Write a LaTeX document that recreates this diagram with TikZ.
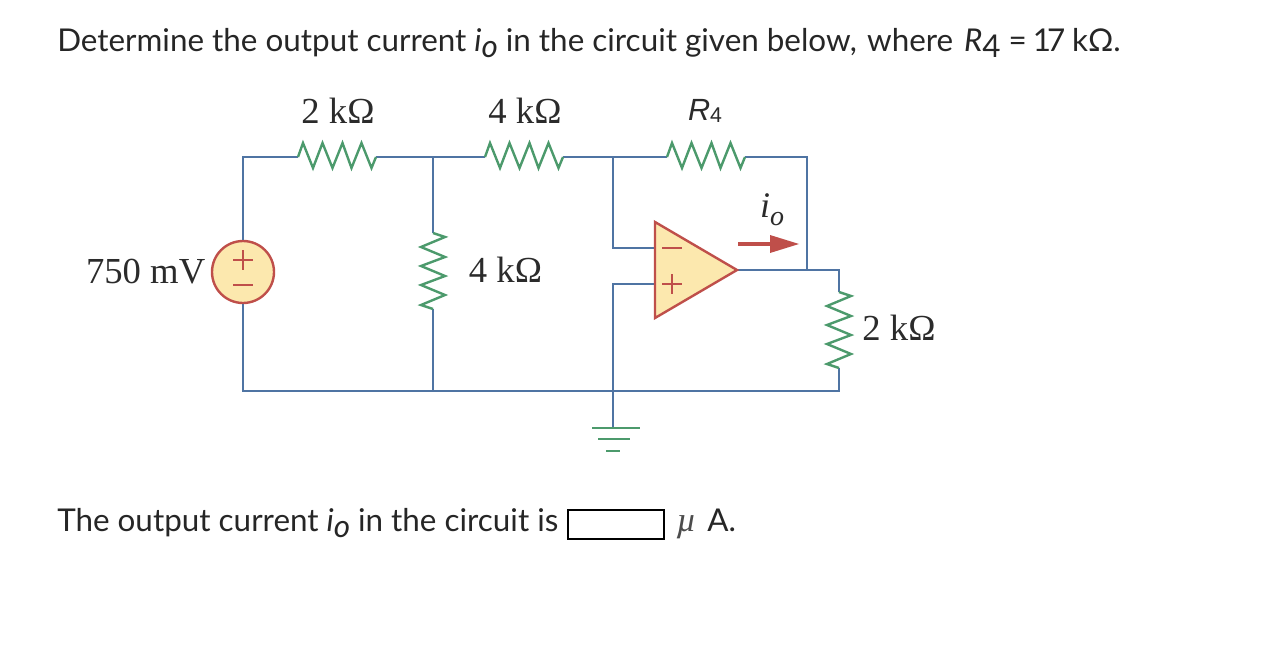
\documentclass[tikz,border=0pt]{standalone}
\usepackage{fontspec}
\setmainfont{Liberation Serif}
\newfontfamily\uifont{Lato}
\newfontfamily\sansfam{Liberation Sans}
\definecolor{wirec}{HTML}{4F74A3}
\definecolor{resc}{HTML}{4C9A6C}
\definecolor{redc}{HTML}{BF4F4A}
\definecolor{fillc}{HTML}{FCE8AE}
\definecolor{txtc}{HTML}{2B2B2B}
\tikzset{
  wire/.style={draw=wirec,line width=1.6pt,line join=miter},
  res/.style={draw=resc,line width=1.8pt,line join=miter},
  red/.style={draw=redc,line width=1.8pt},
  val/.style={font=\fontsize{27.5}{30}\selectfont,text=txtc,inner sep=0pt},
  ui/.style={font=\uifont\fontsize{23.55}{28}\selectfont,text=black!85,inner sep=0pt,anchor=base west},
  gnd/.style={draw=resc,line width=1.8pt},
}
\newcommand{\lowo}{\raisebox{-4.5pt}{\itshape o}}
\begin{document}
\begin{tikzpicture}[x=0.75pt,y=-0.75pt]
\useasboundingbox (0,0) rectangle (1274,646);
% coordinates
\coordinate (tl) at (243,157);
\coordinate (bl) at (243,391);
\coordinate (r1a) at (298,157);
\coordinate (r1b) at (376,157);
\coordinate (n1) at (433,157);
\coordinate (r2a) at (485,157);
\coordinate (r2b) at (563,157);
\coordinate (n2) at (613,157);
\coordinate (r4a) at (667,157);
\coordinate (r4b) at (745,157);
\coordinate (tr) at (807,157);
\coordinate (r3a) at (433,233);
\coordinate (r3b) at (433,309);
\coordinate (n1b) at (433,391);
\coordinate (n3) at (613,391);
\coordinate (gt) at (613,428);
\coordinate (minus) at (655,248);
\coordinate (minusw) at (613,248);
\coordinate (plus) at (655,284);
\coordinate (plusw) at (613,284);
\coordinate (oa1) at (655,222);
\coordinate (oa2) at (655,318);
\coordinate (tip) at (737,270);
\coordinate (fb) at (807,270);
\coordinate (outc) at (839,270);
\coordinate (r5a) at (839,292);
\coordinate (r5b) at (839,368);
\coordinate (br) at (839,391);
\coordinate (ia) at (738,244);
\coordinate (ib) at (799,244);
% source
\node[circle,draw=redc,fill=fillc,line width=1.8pt,minimum size=46.5pt,inner sep=0pt] (src) at (243,272) {};
% wires
\draw[wire] (src.north) -- (tl) -- (r1a);
\draw[wire] (r1b) -- (n1) -- (r2a);
\draw[wire] (r2b) -- (n2) -- (r4a);
\draw[wire] (r4b) -- (tr) -- (fb);
\draw[wire] (n1) -- (r3a);
\draw[wire] (r3b) -- (n1b);
\draw[wire] (src.south) -- (bl) -- (br) -- (r5b);
\draw[wire] (n2) -- (minusw) -- (minus);
\draw[wire] (plus) -- (plusw) -- (gt);
\draw[wire] (tip) -- (outc) -- (r5a);
% source polarity
\draw[red] (233,260) -- (253,260) (243,250) -- (243,270);
\draw[red] (233,285) -- (253,285);
% resistors
\foreach \a/\b in {r1a/r1b,r2a/r2b,r4a/r4b}{
  \draw[res] (\a) -- ++(5,-14) -- ++(10,25) -- ++(9.5,-25) -- ++(10,25) -- ++(10,-25) -- ++(9,25) -- ++(10,-25) -- ++(10,25) -- (\b);
}
\foreach \a/\b in {r3a/r3b,r5a/r5b}{
  \draw[res] (\a) -- ++(12,4) -- ++(-24,10) -- ++(24,10) -- ++(-24,9) -- ++(24,10) -- ++(-24,9) -- ++(24,10) -- ++(-24,10) -- (\b);
}
% op amp
\draw[red,fill=fillc,line join=miter] (oa1) -- (tip) -- (oa2) -- cycle;
\draw[red] (662,248) -- (682,248);
\draw[red] (662,284) -- (682,284) (672,274) -- (672,294);
% current arrow
\draw[draw=redc,line width=2.4pt] (ia) -- (772,244);
\fill[redc] (770,235) -- (ib) -- (770,253) -- cycle;
% ground
\draw[gnd] (592,428) -- (640,428);
\draw[gnd] (598,439) -- (630,439);
\draw[gnd] (606,451) -- (620,451);
% labels
\node[val] (l1) at (338,111) {2 kΩ};
\node[val] (l2) at (525,111) {4 kΩ};
\node[val,font=\sansfam\itshape\fontsize{23}{26}\selectfont] (l3) at (705,111) {R\raisebox{-0.1ex}{\fontsize{16}{18}\selectfont\upshape 4}};
\node[val,anchor=base east] (l4) at (205.5,283) {750 mV};
\node[val] (l5) at (505.5,270) {4 kΩ};
\node[val] (l6) at (899,328) {2 kΩ};
\node[val,font=\fontsize{27}{30}\selectfont\itshape] (l7) at (772,210) {i\raisebox{-0.5ex}{\fontsize{21}{24}\selectfont o}};
\node[ui] (h) at (57,51) {Determine the output current {\itshape i}\lowo{} in the circuit given below,\kern1.5pt{} where\kern2.2pt{} {\itshape R}\raisebox{-4.5pt}{4} = \kern-1.5pt1\kern-3pt7\kern-1pt{} kΩ.};
\node[ui] (f) at (57,531) {The output current {\itshape i}\lowo{} in the circuit is};
\node[draw=black,line width=1.5pt,minimum width=72pt,minimum height=21.75pt,inner sep=0pt] (box) at (616,524) {};
\node[ui,font=\rmfamily\itshape\fontsize{26}{28}\selectfont,text=black!70] (mu) at (676,531) {µ};
\node[ui] (a) at (707,531) {A.};
\end{tikzpicture}
\end{document}
